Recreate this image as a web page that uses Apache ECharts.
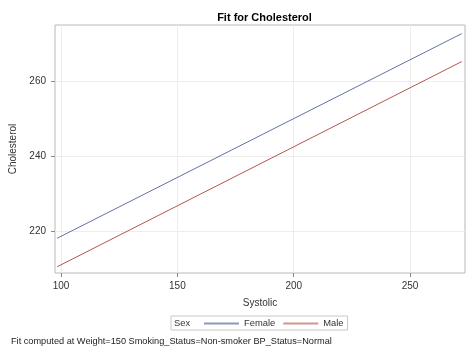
<!DOCTYPE html>
<html><head><meta charset="utf-8">
<script src="https://cdn.jsdelivr.net/npm/echarts@6/dist/echarts.min.js"></script>
<style>html,body{margin:0;padding:0;background:#fff}#c{width:474px;height:355px}</style>
</head><body><div id="c"></div>
<script>
var seriesNames = ['Female', 'Male'];
var systolicRange = [98.3, 272.2];
var femaleFit = [218.05, 272.6];
var maleFit = [210.45, 265.15];
var xTicks = [100, 150, 200, 250];
var yTicks = [220, 240, 260];
var colors = ['#6272a4', '#b5564c'];

var font = '"Liberation Sans", Arial, sans-serif';
var chart = echarts.init(document.getElementById('c'), null, {renderer: 'canvas'});
function pts(ys) { return systolicRange.map(function (x, i) { return [x, ys[i]]; }); }
chart.setOption({
  animation: false,
  textStyle: {fontFamily: font},
  title: {text: 'Fit for Cholesterol', left: 259.5, textAlign: 'center', top: 7,
    textStyle: {fontSize: 11, fontWeight: 'bold', color: '#000', fontFamily: font}},
  grid: {left: 54, right: 9, top: 25, bottom: 82, show: true, borderColor: '#b8b8b8', borderWidth: 1},
  xAxis: {type: 'value', min: 97.4, max: 273.6, name: 'Systolic', nameLocation: 'middle', nameGap: 25,
    nameTextStyle: {fontSize: 10, color: '#333', fontFamily: font},
    axisLine: {show: false},
    axisTick: {show: true, length: 4, lineStyle: {color: '#888'}, customValues: xTicks},
    axisLabel: {customValues: xTicks, fontSize: 10, color: '#333', margin: 8, fontFamily: font},
    splitLine: {show: true, lineStyle: {color: '#ededed'}}},
  yAxis: {type: 'value', min: 208.8, max: 274.9, name: 'Cholesterol', nameLocation: 'middle', nameGap: 37,
    nameTextStyle: {fontSize: 10, color: '#333', fontFamily: font},
    axisLine: {show: false},
    axisTick: {show: true, length: 4, lineStyle: {color: '#888'}, customValues: yTicks},
    axisLabel: {customValues: yTicks, fontSize: 10, color: '#333', margin: 9, fontFamily: font},
    splitLine: {show: true, lineStyle: {color: '#ededed'}}},
  legend: {left: 171, top: 316, orient: 'horizontal', padding: [3, 4, 2, 33],
    borderColor: '#c8c8c8', borderWidth: 1, itemWidth: 35, itemHeight: 2, itemGap: 8,
    icon: 'rect',
    itemStyle: {borderWidth: 0},
    textStyle: {fontSize: 9.4, color: '#333', fontFamily: font, padding: [1, 0, 0, 0]},
    data: [
      {name: seriesNames[0], itemStyle: {color: '#8d97bb', borderWidth: 0}},
      {name: seriesNames[1], itemStyle: {color: '#d2958f', borderWidth: 0}}
    ]},
  graphic: [
    {type: 'text', left: 174, top: 319, style: {text: 'Sex', fill: '#333', font: '9.4px ' + font}},
    {type: 'text', left: 11, top: 337, style: {text: 'Fit computed at Weight=150 Smoking_Status=Non-smoker BP_Status=Normal', fill: '#222', font: '9.2px ' + font}}
  ],
  series: [
    {name: seriesNames[0], type: 'line', data: pts(femaleFit), symbol: 'none', lineStyle: {color: colors[0], width: 1}, itemStyle: {color: colors[0]}},
    {name: seriesNames[1], type: 'line', data: pts(maleFit), symbol: 'none', lineStyle: {color: colors[1], width: 1}, itemStyle: {color: colors[1]}}
  ]
});
</script></body></html>
